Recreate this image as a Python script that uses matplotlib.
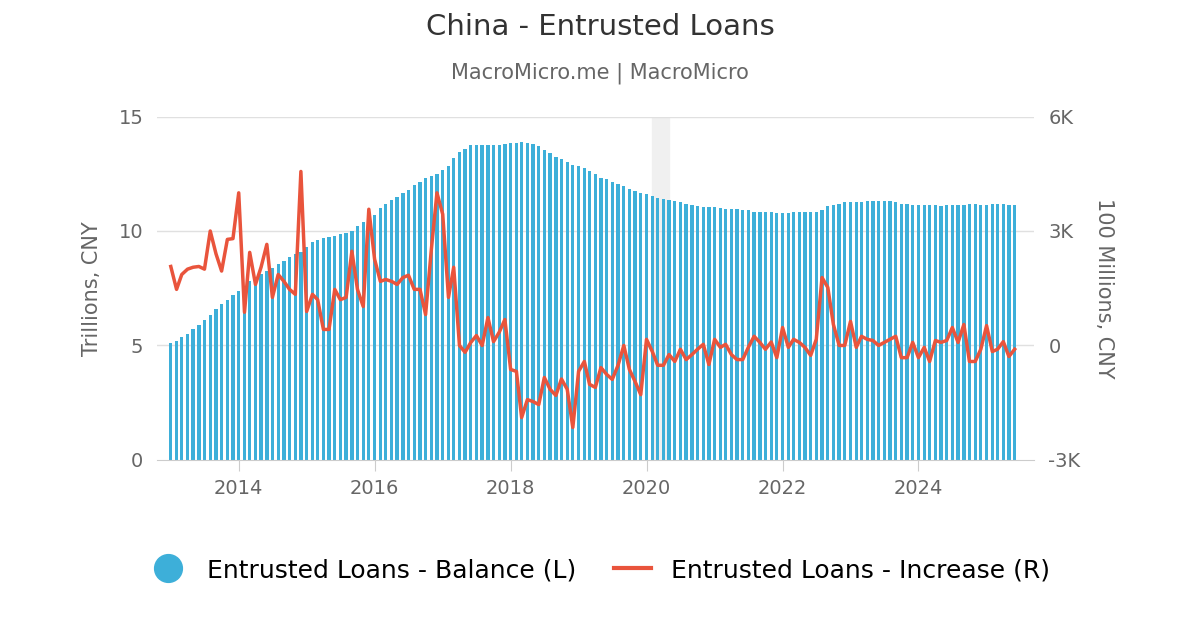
import matplotlib.pyplot as plt
import numpy as np
import pandas as pd

dates = pd.date_range("2013-01-01", "2025-06-01", freq="MS")

# Entrusted loans balance, trillions CNY (left axis)
balance = [
    5.1, 5.2, 5.35, 5.5, 5.7, 5.9, 6.1, 6.35, 6.6, 6.8, 7.0, 7.2,
    7.4, 7.6, 7.8, 7.95, 8.1, 8.25, 8.4, 8.55, 8.7, 8.85, 9.0, 9.1,
    9.3, 9.5, 9.6, 9.7, 9.75, 9.8, 9.85, 9.9, 10.0, 10.2, 10.4, 10.55,
    10.7, 11.0, 11.2, 11.35, 11.5, 11.65, 11.8, 12.0, 12.15, 12.3, 12.4, 12.5,
    12.65, 12.85, 13.2, 13.45, 13.6, 13.75, 13.75, 13.75, 13.75, 13.75, 13.75, 13.8,
    13.85, 13.85, 13.9, 13.85, 13.8, 13.7, 13.55, 13.4, 13.25, 13.15, 13.0, 12.9,
    12.85, 12.75, 12.6, 12.5, 12.3, 12.25, 12.15, 12.05, 11.95, 11.85, 11.75, 11.65,
    11.6, 11.55, 11.45, 11.4, 11.35, 11.3, 11.25, 11.2, 11.15, 11.1, 11.05, 11.05,
    11.05, 11.0, 10.95, 10.95, 10.95, 10.9, 10.9, 10.85, 10.85, 10.85, 10.85, 10.8,
    10.8, 10.8, 10.85, 10.85, 10.85, 10.85, 10.85, 10.9, 11.1, 11.15, 11.2, 11.25,
    11.25, 11.25, 11.25, 11.3, 11.3, 11.3, 11.3, 11.3, 11.25, 11.2, 11.2, 11.15,
    11.15, 11.15, 11.15, 11.15, 11.1, 11.15, 11.15, 11.15, 11.15, 11.2, 11.2, 11.15,
    11.15, 11.2, 11.2, 11.2, 11.15, 11.15,
]

# Monthly increase, 100 millions CNY (right axis)
increase = [
    2070, 1470, 1860, 2000, 2050, 2070, 2000, 3000, 2400, 1950, 2780, 2800,
    4000, 870, 2440, 1600, 2050, 2650, 1260, 1860, 1680, 1470, 1340, 4560,
    890, 1340, 1200, 420, 420, 1470, 1200, 1260, 2470, 1470, 1020, 3570,
    2260, 1680, 1730, 1680, 1600, 1780, 1840, 1470, 1470, 810, 2520, 4000,
    3440, 1260, 2050, 0, -180, 80, 260, 0, 730, 100, 350, 680,
    -630, -680, -1890, -1420, -1470, -1550, -840, -1150, -1310, -880, -1150, -2150,
    -680, -420, -1020, -1100, -580, -760, -890, -520, 0, -630, -950, -1290,
    160, -160, -520, -520, -240, -420, -100, -370, -240, -100, 30, -500,
    160, -50, 30, -240, -370, -370, -50, 240, 80, -100, 90, -320,
    470, -50, 160, 80, -50, -260, 160, 1780, 1520, 550, 0, 0,
    630, -50, 240, 160, 130, 0, 80, 160, 240, -320, -320, 80,
    -320, -50, -420, 130, 80, 130, 470, 80, 550, -420, -420, -100,
    520, -160, -100, 100, -290, -100,
]

blue = "#3dafd9"
red = "#e9543c"
grey = "#666666"

fig = plt.figure(figsize=(12, 6.3), dpi=100)
ax = fig.add_axes([0.131, 0.27, 0.731, 0.545])
ax2 = ax.twinx()

ax.axvspan(pd.Timestamp("2020-02-01"), pd.Timestamp("2020-05-01"), color="#f0f0f0", zorder=0)
for y in [5, 10, 15]:
    ax.axhline(y, color="#e0e0e0", lw=1, zorder=0)
ax.bar(dates, balance, width=18, color=blue, zorder=2)
ax2.plot(dates, increase, color=red, lw=2.5, zorder=3)

ax.set_ylim(0, 15)
ax.set_yticks([0, 5, 10, 15])
ax2.set_ylim(-3000, 6000)
ax2.set_yticks([-3000, 0, 3000, 6000])
ax2.set_yticklabels(["-3K", "0", "3K", "6K"])
ax.set_xlim(pd.Timestamp("2012-10-20"), pd.Timestamp("2025-09-15"))
years = [2014, 2016, 2018, 2020, 2022, 2024]
ax.set_xticks([pd.Timestamp(f"{y}-01-01") for y in years])
ax.set_xticklabels([str(y) for y in years])

for a in (ax, ax2):
    for s in a.spines.values():
        s.set_visible(False)
    a.tick_params(colors=grey, labelsize=14, length=0, pad=10)
ax.spines["bottom"].set_visible(True)
ax.spines["bottom"].set_color("#cccccc")
ax.tick_params(axis="x", length=8, color="#cccccc", pad=6)

ax.set_ylabel("Trillions, CNY", color=grey, fontsize=15, labelpad=12)
ax2.set_ylabel("100 Millions, CNY", color=grey, fontsize=15, rotation=270, labelpad=24)

fig.text(0.5, 0.945, "China - Entrusted Loans", ha="center", fontsize=21, color="#333333")
fig.text(0.5, 0.875, "MacroMicro.me | MacroMicro", ha="center", fontsize=15, color=grey)

fig.legend(
    handles=[
        plt.Line2D([], [], marker="o", ls="", ms=20, color=blue, label="Entrusted Loans - Balance (L)"),
        plt.Line2D([], [], color=red, lw=3, label="Entrusted Loans - Increase (R)"),
    ],
    loc="center", bbox_to_anchor=(0.5, 0.095), ncol=2, frameon=False,
    fontsize=18, handlelength=1.5, columnspacing=1.5,
)

fig.savefig("out.png", dpi=100)
